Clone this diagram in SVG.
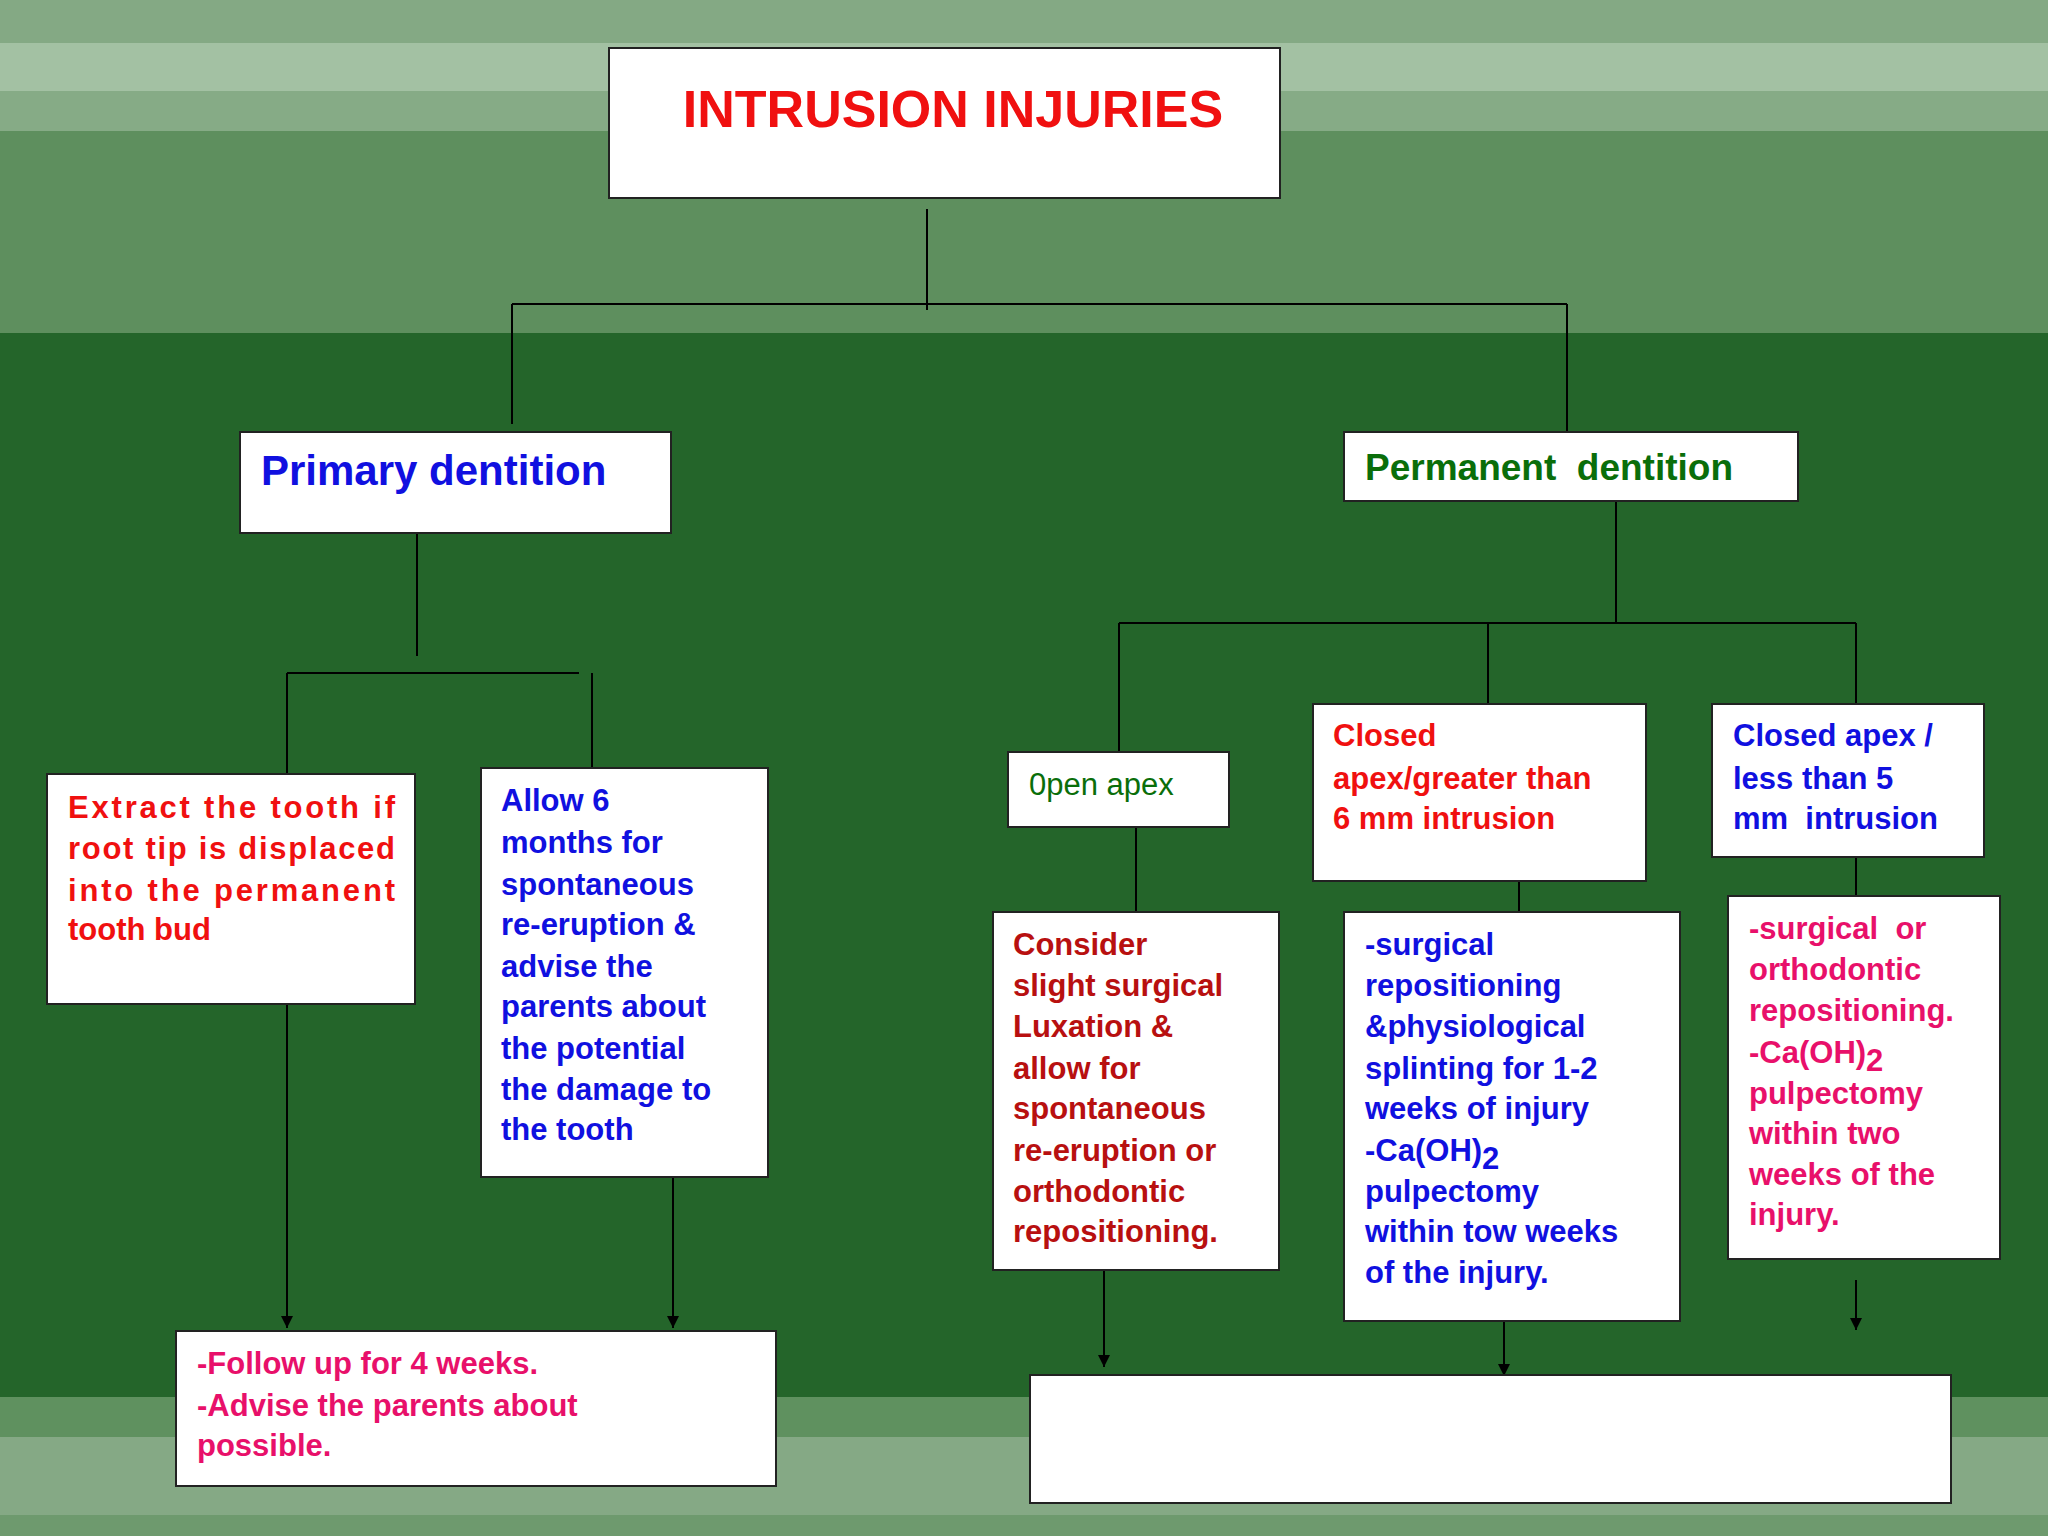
<svg xmlns="http://www.w3.org/2000/svg" width="2048" height="1536" viewBox="0 0 2048 1536">
<style>
.box{fill:#fff;stroke:#222;stroke-width:2}
.t{font-family:"Liberation Sans",Arial,sans-serif;font-weight:bold;font-size:31px}
.red{fill:#f01010}.blue{fill:#1010e0}.green{fill:#0a6e0a}.dred{fill:#b81010}.pink{fill:#e8106a}
.ln{stroke:#000;stroke-width:2;fill:none}
</style>
<defs><marker id="ah" markerWidth="10" markerHeight="10" refX="5" refY="9" orient="auto" markerUnits="userSpaceOnUse" viewBox="0 0 10 10"><path d="M0,0 L10,0 L5,10 Z" fill="#000" transform="rotate(-90 5 5)"/></marker>
<marker id="a" markerWidth="12" markerHeight="16" refX="12" refY="6" orient="auto" markerUnits="userSpaceOnUse"><path d="M0,0 L12,6 L0,12 Z" fill="#000"/></marker></defs>
<rect width="2048" height="1536" fill="#24652a"/>
<rect y="0" width="2048" height="43" fill="#84a984"/>
<rect y="43" width="2048" height="48" fill="#a3c1a3"/>
<rect y="91" width="2048" height="40" fill="#86ab86"/>
<rect y="131" width="2048" height="202" fill="#5e8f5e"/>
<rect y="1397" width="2048" height="40" fill="#5f915f"/>
<rect y="1437" width="2048" height="78" fill="#85a985"/>
<rect y="1515" width="2048" height="21" fill="#6e9a6e"/>
<g id="connectors">
<path class="ln" d="M927,209V310M512,304H1567M512,304V424M1567,304V431"/>
<path class="ln" d="M417,533V656M287,673H579M287,673V774M592,673V767"/>
<path class="ln" d="M1616,501V623M1119,623H1856M1119,623V751M1488,623V704M1856,623V704"/>
<path class="ln" d="M1136,827V912M1519,882V912M1856,857V896"/>
<path class="ln" marker-end="url(#a)" d="M287,1004V1328"/>
<path class="ln" marker-end="url(#a)" d="M673,1177V1328"/>
<path class="ln" marker-end="url(#a)" d="M1104,1270V1367"/>
<path class="ln" marker-end="url(#a)" d="M1504,1320V1376"/>
<path class="ln" marker-end="url(#a)" d="M1856,1280V1330"/>
</g>
<g id="title"><rect class="box" x="609" y="48" width="671" height="150"/><text x="953" y="127" text-anchor="middle" class="t red" style="font-size:52px">INTRUSION INJURIES</text></g>
<g id="primary"><rect class="box" x="240" y="432" width="431" height="101"/><text x="261" y="485" class="t blue" style="font-size:42px">Primary dentition</text></g>
<g id="permanent"><rect class="box" x="1344" y="432" width="454" height="69"/><text x="1365" y="480" class="t green" style="font-size:37px" xml:space="preserve">Permanent  dentition</text></g>
<g id="extract"><rect class="box" x="47" y="774" width="368" height="230"/>
<text class="t red"><tspan x="68" y="818" textLength="327" lengthAdjust="spacing">Extract the tooth if</tspan><tspan x="68" y="859" textLength="327" lengthAdjust="spacing">root tip is displaced</tspan><tspan x="68" y="901" textLength="327" lengthAdjust="spacing">into the permanent</tspan><tspan x="68" y="940">tooth bud</tspan></text></g>
<g id="allow"><rect class="box" x="481" y="768" width="287" height="409"/>
<text class="t blue"><tspan x="501" y="811">Allow 6</tspan><tspan x="501" y="853">months for</tspan><tspan x="501" y="895">spontaneous</tspan><tspan x="501" y="935">re-eruption &amp;</tspan><tspan x="501" y="977">advise the</tspan><tspan x="501" y="1017">parents about</tspan><tspan x="501" y="1059">the potential</tspan><tspan x="501" y="1100">the damage to</tspan><tspan x="501" y="1140">the tooth</tspan></text></g>
<g id="follow"><rect class="box" x="176" y="1331" width="600" height="155"/>
<text class="t pink"><tspan x="197" y="1374">-Follow up for 4 weeks.</tspan><tspan x="197" y="1416">-Advise the parents about</tspan><tspan x="197" y="1456">possible.</tspan></text></g>
<g id="open"><rect class="box" x="1008" y="752" width="221" height="75"/><text x="1029" y="795" class="t green" style="font-weight:normal">0pen apex</text></g>
<g id="closedg"><rect class="box" x="1313" y="704" width="333" height="177"/>
<text class="t red"><tspan x="1333" y="746">Closed</tspan><tspan x="1333" y="789">apex/greater than</tspan><tspan x="1333" y="829">6 mm intrusion</tspan></text></g>
<g id="closedl"><rect class="box" x="1712" y="704" width="272" height="153"/>
<text class="t blue" xml:space="preserve"><tspan x="1733" y="746">Closed apex /</tspan><tspan x="1733" y="789">less than 5</tspan><tspan x="1733" y="829">mm  intrusion</tspan></text></g>
<g id="consider"><rect class="box" x="993" y="912" width="286" height="358"/>
<text class="t dred"><tspan x="1013" y="955">Consider</tspan><tspan x="1013" y="996">slight surgical</tspan><tspan x="1013" y="1037">Luxation &amp;</tspan><tspan x="1013" y="1079">allow for</tspan><tspan x="1013" y="1119">spontaneous</tspan><tspan x="1013" y="1161">re-eruption or</tspan><tspan x="1013" y="1202">orthodontic</tspan><tspan x="1013" y="1242">repositioning.</tspan></text></g>
<g id="surgical"><rect class="box" x="1344" y="912" width="336" height="409"/>
<text class="t blue"><tspan x="1365" y="955">-surgical</tspan><tspan x="1365" y="996">repositioning</tspan><tspan x="1365" y="1037">&amp;physiological</tspan><tspan x="1365" y="1079">splinting for 1-2</tspan><tspan x="1365" y="1119">weeks of injury</tspan><tspan x="1365" y="1161">-Ca(OH)</tspan><tspan dy="8">2</tspan><tspan x="1365" y="1202">pulpectomy</tspan><tspan x="1365" y="1242">within tow weeks</tspan><tspan x="1365" y="1283">of the injury.</tspan></text></g>
<g id="orth"><rect class="box" x="1728" y="896" width="272" height="363"/>
<text class="t pink" xml:space="preserve"><tspan x="1749" y="939">-surgical  or</tspan><tspan x="1749" y="980">orthodontic</tspan><tspan x="1749" y="1021">repositioning.</tspan><tspan x="1749" y="1063">-Ca(OH)</tspan><tspan dy="8">2</tspan><tspan x="1749" y="1104">pulpectomy</tspan><tspan x="1749" y="1144">within two</tspan><tspan x="1749" y="1185">weeks of the</tspan><tspan x="1749" y="1225">injury.</tspan></text></g>
<g id="bottom"><rect class="box" x="1030" y="1375" width="921" height="128"/></g>
</svg>
